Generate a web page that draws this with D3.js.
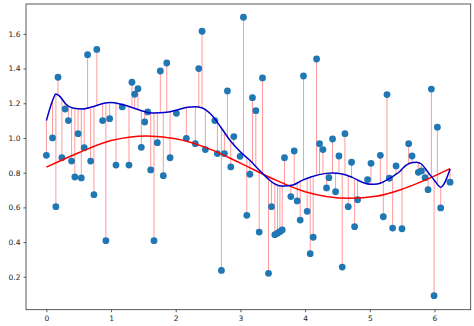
<!DOCTYPE html>
<html>
<head>
<meta charset="utf-8">
<script src="https://cdn.jsdelivr.net/npm/d3@7/dist/d3.min.js"></script>
<style>
  html, body { margin: 0; padding: 0; background: #fff; }
  svg { display: block; }
  .tick text { font-family: "DejaVu Sans", sans-serif; font-size: 7.5px; fill: #222; }
</style>
</head>
<body>
<svg id="chart" width="474" height="326"></svg>
<script>
// Noisy samples
const xs = [0.00, 0.095, 0.147, 0.18, 0.24, 0.29, 0.34, 0.39, 0.44, 0.49, 0.54, 0.585, 0.637, 0.684, 0.735, 0.78,
  0.87, 0.92, 0.978, 1.076, 1.173, 1.277, 1.323, 1.365, 1.416, 1.468, 1.52, 1.567, 1.613, 1.664, 1.715, 1.762,
  1.808, 1.861, 1.912, 2.01, 2.164, 2.303, 2.356, 2.407, 2.458, 2.604, 2.644, 2.706, 2.752, 2.799, 2.851, 2.898,
  2.995, 3.047, 3.099, 3.146, 3.186, 3.238, 3.29, 3.341, 3.434, 3.48, 3.532, 3.573, 3.61, 3.646, 3.681, 3.78,
  3.831, 3.878, 3.924, 3.975, 4.032, 4.079, 4.125, 4.177, 4.223, 4.276, 4.331, 4.368, 4.424, 4.471, 4.523, 4.574,
  4.616, 4.667, 4.718, 4.765, 4.811, 4.966, 5.019, 5.163, 5.209, 5.266, 5.302, 5.353, 5.406, 5.498, 5.601, 5.653,
  5.751, 5.797, 5.854, 5.901, 5.952, 5.994, 6.045, 6.096, 6.241];
const ys = [0.90, 1.00, 0.604, 1.35, 0.886, 1.167, 1.10, 0.867, 0.775, 1.025, 0.77, 0.944, 1.48, 0.867, 0.673, 1.51,
  1.10, 0.408, 1.111, 0.844, 1.179, 0.844, 1.321, 1.252, 1.284, 0.946, 1.092, 1.15, 0.816, 0.408, 0.973, 1.386,
  0.783, 1.432, 0.886, 1.142, 0.998, 0.967, 1.40, 1.615, 0.933, 1.10, 0.91, 0.237, 0.91, 1.271, 0.833, 1.008,
  0.894, 1.696, 0.554, 0.791, 1.232, 1.157, 0.458, 1.346, 0.22, 0.604, 0.443, 0.451, 0.46, 0.47, 0.886, 0.662,
  0.925, 0.637, 0.527, 1.357, 0.577, 0.333, 0.428, 1.455, 0.967, 0.933, 0.712, 0.771, 0.994, 0.69, 0.896, 0.256,
  1.025, 0.604, 0.86, 0.489, 0.644, 0.76, 0.854, 0.90, 0.546, 1.25, 0.768, 0.481, 0.839, 0.477, 0.967, 0.896,
  0.802, 0.81, 0.771, 0.702, 1.282, 0.091, 1.062, 0.597, 0.745];

// Underlying smooth curve (red)
const trueX = [0, 0.5, 1.0, 1.55, 2.0, 2.5, 3.0, 3.5, 4.0, 4.68, 5.1, 5.5, 5.9, 6.241];
const trueY = [0.832, 0.915, 0.985, 1.012, 0.995, 0.94, 0.855, 0.765, 0.69, 0.652, 0.664, 0.705, 0.764, 0.823];

// Fitted curve (blue)
const fitX = [0, 0.095, 0.147, 0.2, 0.30, 0.405, 0.56, 0.715, 0.89, 0.983, 1.138, 1.344, 1.50, 1.653, 1.86, 2.036,
  2.18, 2.30, 2.41, 2.54, 2.697, 2.85, 3.006, 3.12, 3.325, 3.43, 3.53, 3.635, 3.74, 3.815, 3.945, 4.10, 4.327,
  4.42, 4.574, 4.73, 4.884, 5.013, 5.116, 5.245, 5.375, 5.472, 5.514, 5.616, 5.72, 5.797, 5.90, 6.003, 6.096, 6.241];
const fitY = [1.10, 1.215, 1.254, 1.243, 1.196, 1.173, 1.167, 1.18, 1.20, 1.204, 1.196, 1.173, 1.154, 1.144, 1.148, 1.163,
  1.177, 1.18, 1.173, 1.138, 1.062, 0.981, 0.918, 0.88, 0.802, 0.764, 0.735, 0.723, 0.725, 0.729, 0.754, 0.777, 0.796,
  0.798, 0.793, 0.773, 0.745, 0.733, 0.735, 0.754, 0.783, 0.81, 0.827, 0.854, 0.86, 0.85, 0.802, 0.754, 0.716, 0.821];

const xTicks = [0, 1, 2, 3, 4, 5, 6];
const yTicks = [0.2, 0.4, 0.6, 0.8, 1.0, 1.2, 1.4, 1.6];

const svg = d3.select("#chart");
const plotLeft = 26, plotTop = 4, plotRight = 470.7, plotBottom = 309.7;

const x = d3.scaleLinear().domain([-0.315, 6.56]).range([plotLeft, plotRight]);
const y = d3.scaleLinear().domain([0.0104, 1.772]).range([plotBottom, plotTop]);

const line = (px, py) => d3.line()
  .x((d, i) => x(px[i])).y((d, i) => y(py[i]))
  .curve(d3.curveMonotoneX)(px);

// Fitted path is laid out first (unstroked) so stems can end exactly on it
const fitPath = svg.append("path")
  .attr("d", line(fitX, fitY))
  .attr("fill", "none").attr("stroke", "none");

const node = fitPath.node();
const total = node.getTotalLength();
const samples = [];
for (let l = 0; l <= total; l += 0.25) {
  const p = node.getPointAtLength(l);
  samples.push({ x: p.x, y: p.y });
}
samples.sort((a, b) => a.x - b.x);
const bis = d3.bisector(d => d.x).left;
function fitAt(px) {
  const i = bis(samples, px);
  if (i <= 0) return samples[0].y;
  if (i >= samples.length) return samples[samples.length - 1].y;
  const a = samples[i - 1], b = samples[i];
  const t = b.x === a.x ? 0 : (px - a.x) / (b.x - a.x);
  return a.y + t * (b.y - a.y);
}

// Residual stems
svg.append("g").selectAll("line").data(xs).join("line")
  .attr("x1", (d) => x(d)).attr("x2", (d) => x(d))
  .attr("y1", (d, i) => y(ys[i]))
  .attr("y2", (d) => fitAt(x(d)))
  .attr("stroke", "#ff0000").attr("stroke-opacity", 0.4).attr("stroke-width", 1);

// Samples
svg.append("g").selectAll("circle").data(xs).join("circle")
  .attr("cx", (d) => x(d)).attr("cy", (d, i) => y(ys[i]))
  .attr("r", 3.4).attr("fill", "#1f77b4");

// Curves
svg.append("path").attr("d", line(trueX, trueY))
  .attr("fill", "none").attr("stroke", "#ff0000").attr("stroke-width", 1.5);
svg.append("path").attr("d", line(fitX, fitY))
  .attr("fill", "none").attr("stroke", "#0000cc").attr("stroke-width", 1.5);

// Axes
const xAxis = svg.append("g").attr("transform", `translate(0,${plotBottom})`)
  .call(d3.axisBottom(x).tickValues(xTicks).tickFormat(d3.format("d")).tickSize(2.5).tickPadding(3));
const yAxis = svg.append("g").attr("transform", `translate(${plotLeft},0)`)
  .call(d3.axisLeft(y).tickValues(yTicks).tickFormat(d3.format(".1f")).tickSize(2.5).tickPadding(3));
[xAxis, yAxis].forEach(g => {
  g.select(".domain").remove();
  g.selectAll(".tick line").attr("stroke", "#333").attr("stroke-width", 0.8);
});

// Frame
svg.append("rect")
  .attr("x", plotLeft).attr("y", plotTop)
  .attr("width", plotRight - plotLeft).attr("height", plotBottom - plotTop)
  .attr("fill", "none").attr("stroke", "#333").attr("stroke-width", 0.8);
</script>
</body>
</html>
